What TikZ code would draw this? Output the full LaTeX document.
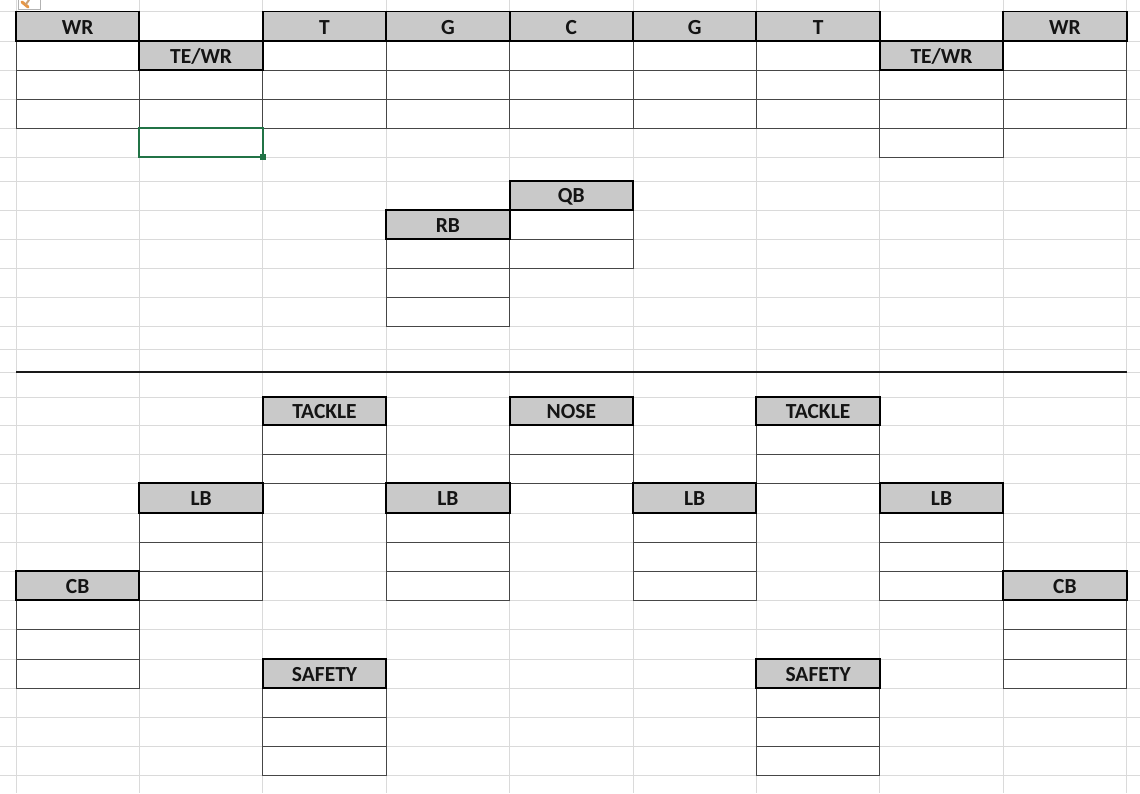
\documentclass[tikz,border=0pt]{standalone}
\usepackage{fontspec}
\setmainfont{Carlito}
\definecolor{gridc}{RGB}{218,218,218}
\definecolor{hdrfill}{RGB}{201,201,201}
\definecolor{cellc}{RGB}{70,70,70}
\definecolor{selgreen}{RGB}{33,115,70}
\definecolor{txtc}{RGB}{20,20,20}
\tikzset{
  gridst/.style={draw=gridc, line width=1pt},
  hdrst/.style={fill=hdrfill, draw=black, line width=1.9pt},
  cellst/.style={draw=cellc, line width=1pt},
  lbl/.style={inner sep=0pt, text=txtc, font=\fontsize{21.5}{24}\selectfont\bfseries},
  selst/.style={draw=selgreen, line width=2pt},
}
\newcommand\hdrcell[5]{% name, col, ytop, ybot, label
  \filldraw[hdrst] ({16+123.4*#2},#3) rectangle ({16+123.4*(#2+1)},#4);
  \node[lbl] (#1) at ({16+123.4*(#2+0.5)},{(#3+#4)/2+1}) {#5};}
\newcommand\thincells[2]{% col, list of ytop/ybot
  \foreach \ya/\yb in {#2} {\draw[cellst] ({16+123.4*#1},\ya) rectangle ({16+123.4*(#1+1)},\yb);}}
\begin{document}
\begin{tikzpicture}[x=1pt,y=-1pt]
\useasboundingbox (0,0) rectangle (1140,793);
\fill[white] (0,0) rectangle (1140,793);
% gridlines
\foreach \y in {11.5,41,70,99,128,157,181,210,239,268,297,326,349,372,397,425,454,483,513,542,571,600,629,659,688,717,746,775}
  \draw[gridst] (0,\y) -- (1140,\y);
\foreach \i in {0,...,9}
  \draw[gridst] ({16+123.4*\i},0) -- ({16+123.4*\i},793);
% paste icon (partly visible)
\filldraw[draw=gray!60, fill=white, line width=0.6pt] (18,-2) rectangle (40,9);
\draw[draw={rgb,255:red,230;green,150;blue,70}, line width=3pt, line cap=round] (22,2) -- (28,7);
\draw[draw={rgb,255:red,200;green,160;blue,120}, line width=2pt, line cap=round] (29,0) -- (26,4);
% ---------- offense ----------
\thincells{0}{41/70,70/99,99/128}
\thincells{1}{70/99,99/128,128/157}
\thincells{2}{41/70,70/99,99/128}
\thincells{3}{41/70,70/99,99/128}
\thincells{4}{41/70,70/99,99/128}
\thincells{5}{41/70,70/99,99/128}
\thincells{6}{41/70,70/99,99/128}
\thincells{7}{70/99,99/128,128/157}
\thincells{8}{41/70,70/99,99/128}
\thincells{4}{210/239,239/268}
\thincells{3}{239/268,268/297,297/326}
\hdrcell{wrl}{0}{11.5}{41}{WR}
\hdrcell{tewrl}{1}{41}{70}{TE/WR}
\hdrcell{tl}{2}{11.5}{41}{T}
\hdrcell{gl}{3}{11.5}{41}{G}
\hdrcell{c}{4}{11.5}{41}{C}
\hdrcell{gr}{5}{11.5}{41}{G}
\hdrcell{tr}{6}{11.5}{41}{T}
\hdrcell{tewrr}{7}{41}{70}{TE/WR}
\hdrcell{wrr}{8}{11.5}{41}{WR}
\hdrcell{qb}{4}{181}{210}{QB}
\hdrcell{rb}{3}{210}{239}{RB}
% selection
\draw[selst] (139.4,128) rectangle (262.8,157);
\fill[selgreen] (260,154) rectangle (266,160);
% line of scrimmage
\coordinate (losl) at (16,372);
\coordinate (losr) at (1126.7,372);
\draw[line width=2pt, draw=black!90] (losl) -- (losr);
% ---------- defense ----------
\thincells{2}{425/454,454/483}
\thincells{4}{425/454,454/483}
\thincells{6}{425/454,454/483}
\thincells{1}{513/542,542/571,571/600}
\thincells{3}{513/542,542/571,571/600}
\thincells{5}{513/542,542/571,571/600}
\thincells{7}{513/542,542/571,571/600}
\thincells{0}{600/629,629/659,659/688}
\thincells{8}{600/629,629/659,659/688}
\thincells{2}{688/717,717/746,746/775}
\thincells{6}{688/717,717/746,746/775}
\hdrcell{tackl}{2}{397}{425}{TACKLE}
\hdrcell{nose}{4}{397}{425}{NOSE}
\hdrcell{tackr}{6}{397}{425}{TACKLE}
\hdrcell{lba}{1}{483}{513}{LB}
\hdrcell{lbb}{3}{483}{513}{LB}
\hdrcell{lbc}{5}{483}{513}{LB}
\hdrcell{lbd}{7}{483}{513}{LB}
\hdrcell{cbl}{0}{571}{600}{CB}
\hdrcell{cbr}{8}{571}{600}{CB}
\hdrcell{safl}{2}{659}{688}{SAFETY}
\hdrcell{safr}{6}{659}{688}{SAFETY}
\end{tikzpicture}
\end{document}
